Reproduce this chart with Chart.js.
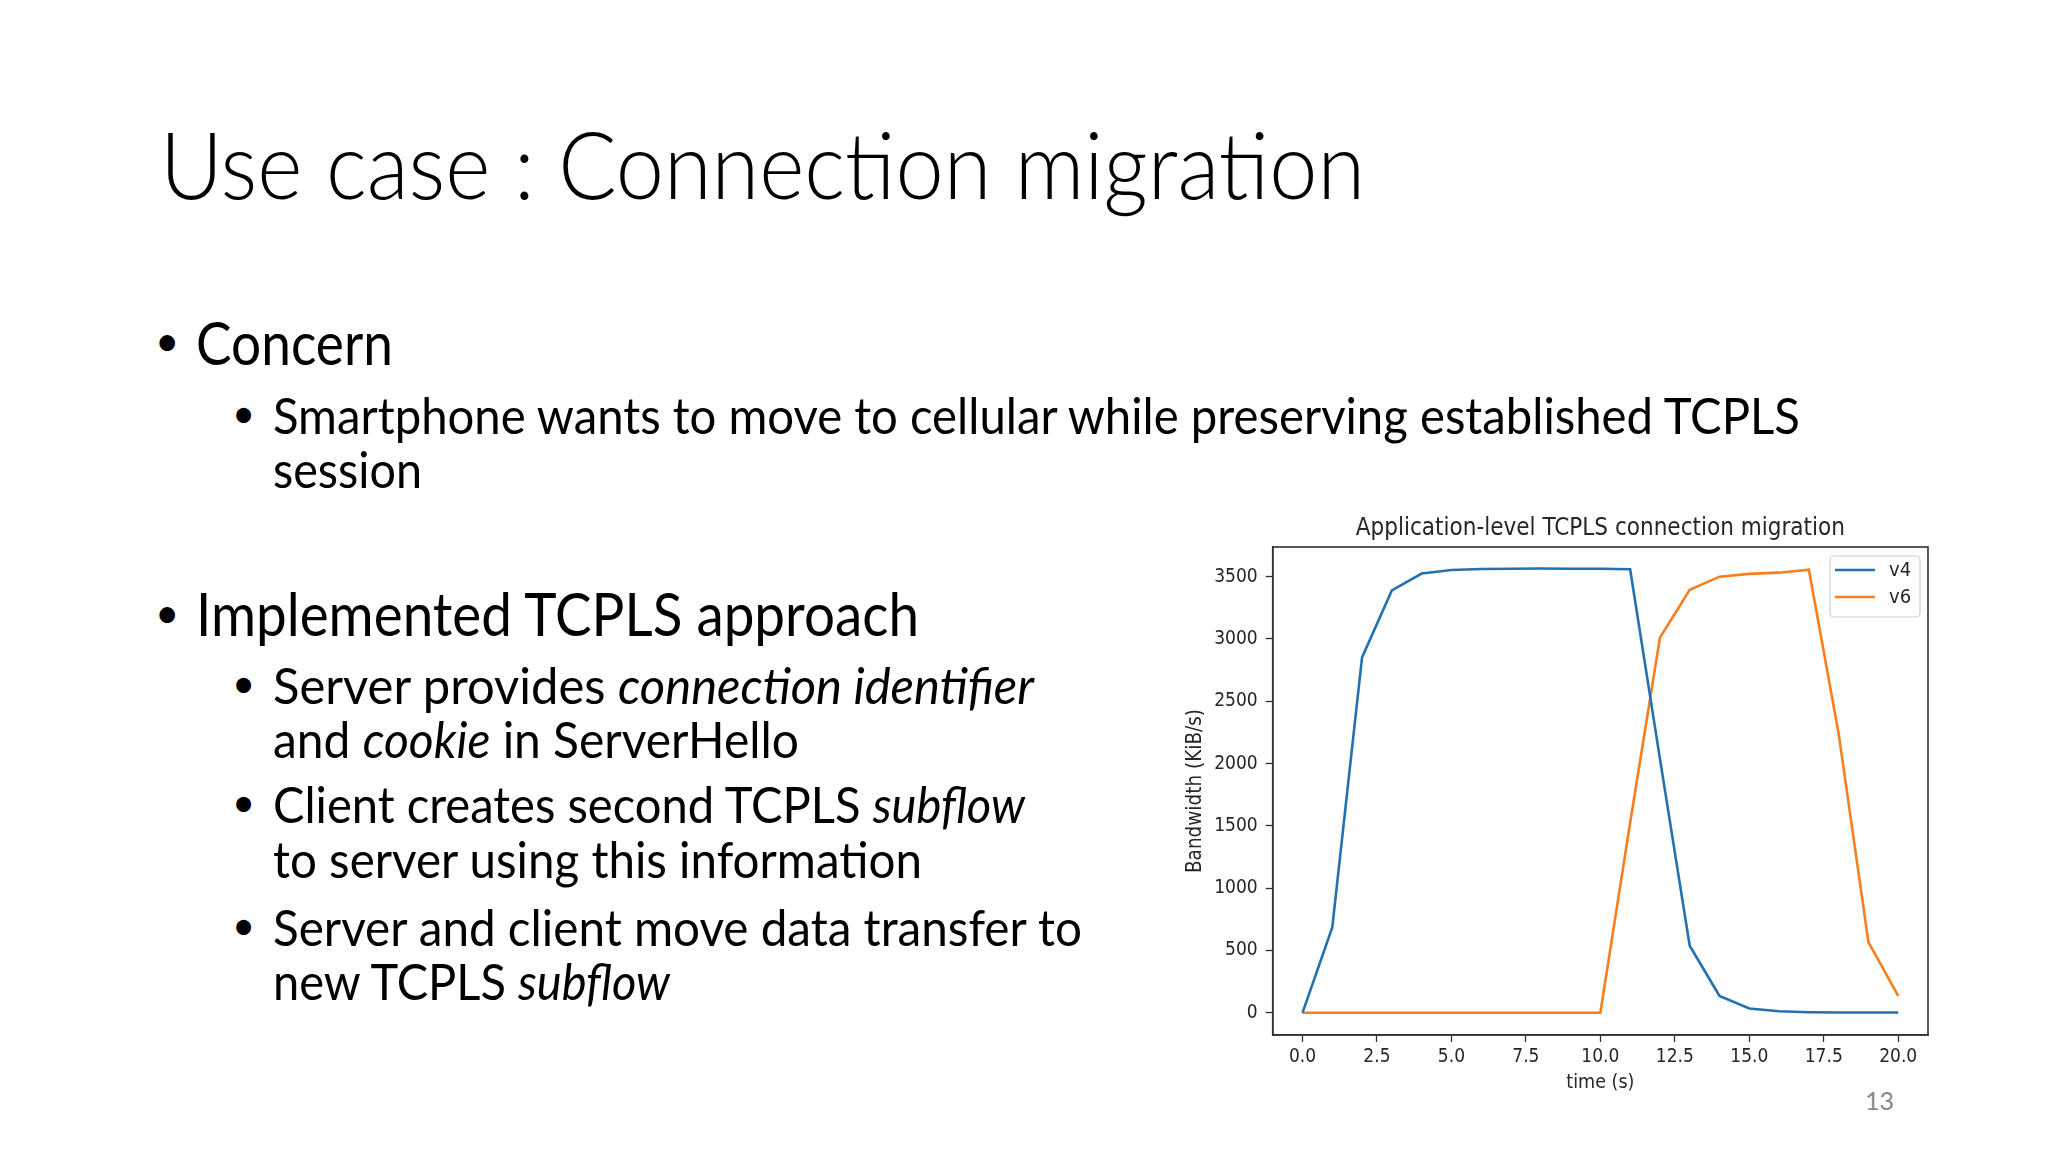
<!DOCTYPE html>
<html>
<head>
<meta charset="utf-8">
<script src="https://cdn.jsdelivr.net/npm/chart.js@4.4.1/dist/chart.umd.min.js"></script>
<style>
  html, body { margin: 0; padding: 0; background: #ffffff; }
  body { width: 2048px; height: 1152px; position: relative; overflow: hidden; }
  #slide { position: absolute; left: 0; top: 0; }
  #chartBox { position: absolute; left: 1150px; top: 500px; width: 800px; height: 600px; }
  .body { font-family: Lato, "Open Sans", "Noto Sans", sans-serif; fill: #000; }
</style>
</head>
<body>
<svg id="slide" width="2048" height="1152" xmlns="http://www.w3.org/2000/svg">
  <text class="body" x="160" y="199" font-size="92" font-weight="300" textLength="1205" lengthAdjust="spacingAndGlyphs">Use case : Connection migration</text>

  <text class="body" x="155" y="356" font-size="42">•</text>
  <text class="body" x="196" y="365" font-size="60" textLength="197" lengthAdjust="spacingAndGlyphs">Concern</text>

  <text class="body" x="232" y="428" font-size="40">•</text>
  <text class="body" x="273" y="434" font-size="51" textLength="1527" lengthAdjust="spacingAndGlyphs">Smartphone wants to move to cellular while preserving established TCPLS</text>
  <text class="body" x="273" y="488" font-size="51" textLength="149" lengthAdjust="spacingAndGlyphs">session</text>

  <text class="body" x="155" y="628" font-size="42">•</text>
  <text class="body" x="196" y="636" font-size="60" textLength="723" lengthAdjust="spacingAndGlyphs">Implemented TCPLS approach</text>

  <text class="body" x="232" y="698" font-size="40">•</text>
  <text class="body" x="273" y="704" font-size="51" textLength="761" lengthAdjust="spacingAndGlyphs">Server provides <tspan font-style="italic">connection identifier</tspan></text>
  <text class="body" x="273" y="758" font-size="51" textLength="526" lengthAdjust="spacingAndGlyphs">and <tspan font-style="italic">cookie</tspan> in ServerHello</text>

  <text class="body" x="232" y="817" font-size="40">•</text>
  <text class="body" x="273" y="823" font-size="51" textLength="752" lengthAdjust="spacingAndGlyphs">Client creates second TCPLS <tspan font-style="italic">subflow</tspan></text>
  <text class="body" x="273" y="878" font-size="51" textLength="649" lengthAdjust="spacingAndGlyphs">to server using this information</text>

  <text class="body" x="232" y="940" font-size="40">•</text>
  <text class="body" x="273" y="946" font-size="51" textLength="809" lengthAdjust="spacingAndGlyphs">Server and client move data transfer to</text>
  <text class="body" x="273" y="1000" font-size="51" textLength="397" lengthAdjust="spacingAndGlyphs">new TCPLS <tspan font-style="italic">subflow</tspan></text>

  <text x="1894" y="1110" font-size="25" text-anchor="end" font-family="Lato, 'Open Sans', sans-serif" fill="#898989">13</text>
</svg>

<div id="chartBox"><canvas id="c" width="800" height="600"></canvas></div>

<script>
// ---- data ----
const timeSec = [0, 1, 2, 3, 4, 5, 6, 7, 8, 9, 10, 11, 12, 13, 14, 15, 16, 17, 18, 19, 20];
const v4 = [0, 685, 2852, 3390, 3525, 3553, 3562, 3563, 3565, 3563, 3564, 3560, 2040, 538, 136, 35, 12, 5, 3, 2, 2];
const v6 = [0, 0, 0, 0, 0, 0, 0, 0, 0, 0, 0, 1525, 3010, 3395, 3500, 3522, 3532, 3556, 2240, 567, 136];
const xTickValues = [0, 2.5, 5, 7.5, 10, 12.5, 15, 17.5, 20];
const yTickValues = [0, 500, 1000, 1500, 2000, 2500, 3000, 3500];
const seriesNames = ['v4', 'v6'];
const seriesColors = ['#2471b0', '#fa7d1e'];
const chartTitle = 'Application-level TCPLS connection migration';
const xTitle = 'time (s)';
const yTitle = 'Bandwidth (KiB/s)';

const FONT = '"DejaVu Sans Condensed", "DejaVu Sans", sans-serif';
const INK = '#262626';

const framePlugin = {
  id: 'frame',
  afterDatasetsDraw(chart) {
    const {ctx, chartArea: a} = chart;
    ctx.save();
    ctx.strokeStyle = '#303030';
    ctx.lineWidth = 1.6;
    ctx.strokeRect(a.left, a.top, a.right - a.left, a.bottom - a.top);
    ctx.restore();
  }
};

const innerLegend = {
  id: 'innerLegend',
  afterDraw(chart) {
    const {ctx, chartArea: a} = chart;
    const w = 90, h = 61;
    const x0 = a.right - 8 - w, y0 = a.top + 9;
    ctx.save();
    ctx.fillStyle = 'rgba(255,255,255,0.85)';
    ctx.strokeStyle = '#d0d0d0';
    ctx.lineWidth = 1.2;
    ctx.beginPath();
    ctx.roundRect(x0, y0, w, h, 4);
    ctx.fill();
    ctx.stroke();
    ctx.font = '20px ' + FONT;
    ctx.textBaseline = 'middle';
    ctx.textAlign = 'left';
    chart.data.datasets.forEach((ds, i) => {
      const yy = y0 + 14 + i * 27;
      ctx.strokeStyle = ds.borderColor;
      ctx.lineWidth = 2.6;
      ctx.beginPath();
      ctx.moveTo(x0 + 5, yy);
      ctx.lineTo(x0 + 45, yy);
      ctx.stroke();
      ctx.fillStyle = INK;
      ctx.fillText(ds.label, x0 + 59, yy + 1);
    });
    ctx.restore();
  }
};

const toPoints = arr => timeSec.map((t, i) => ({x: t, y: arr[i]}));

new Chart(document.getElementById('c'), {
  type: 'line',
  data: {
    datasets: [
      {label: seriesNames[0], data: toPoints(v4), borderColor: seriesColors[0], borderWidth: 2.6, pointRadius: 0, tension: 0, fill: false},
      {label: seriesNames[1], data: toPoints(v6), borderColor: seriesColors[1], borderWidth: 2.6, pointRadius: 0, tension: 0, fill: false}
    ]
  },
  options: {
    responsive: false,
    animation: false,
    devicePixelRatio: 1,
    layout: {padding: {left: 0, right: 22, top: 0, bottom: 0}},
    plugins: {
      legend: {display: false},
      tooltip: {enabled: false},
      title: {
        display: true,
        fullSize: false,
        text: chartTitle,
        color: INK,
        font: {family: FONT, size: 24, weight: 'normal'},
        padding: {top: 14.6, bottom: 3.6}
      }
    },
    scales: {
      x: {
        type: 'linear',
        min: -1, max: 21,
        afterBuildTicks: s => { s.ticks = xTickValues.map(v => ({value: v})); },
        afterFit: s => { s.height = 65; },
        ticks: {
          color: INK, padding: 4,
          font: {family: FONT, size: 19},
          callback: v => Number(v).toFixed(1),
          maxRotation: 0, autoSkip: false
        },
        grid: {drawOnChartArea: false, drawTicks: true, tickLength: 7, tickColor: '#303030', tickWidth: 1.3},
        border: {display: true, color: '#303030', width: 1.6},
        title: {display: true, text: xTitle, color: INK, font: {family: FONT, size: 19.5}, padding: {top: 0, bottom: 5}}
      },
      y: {
        type: 'linear',
        min: -178, max: 3738,
        afterBuildTicks: s => { s.ticks = yTickValues.map(v => ({value: v})); },
        afterFit: s => { s.width = 122.7; },
        ticks: {
          color: INK, padding: 8,
          font: {family: FONT, size: 19},
          callback: v => String(v),
          autoSkip: false
        },
        grid: {drawOnChartArea: false, drawTicks: true, tickLength: 7, tickColor: '#303030', tickWidth: 1.3},
        border: {display: true, color: '#303030', width: 1.6},
        title: {display: true, text: yTitle, color: INK, font: {family: FONT, size: 20.5}, padding: {top: 33, bottom: 0}}
      }
    }
  },
  plugins: [framePlugin, innerLegend]
});
</script>
</body>
</html>
